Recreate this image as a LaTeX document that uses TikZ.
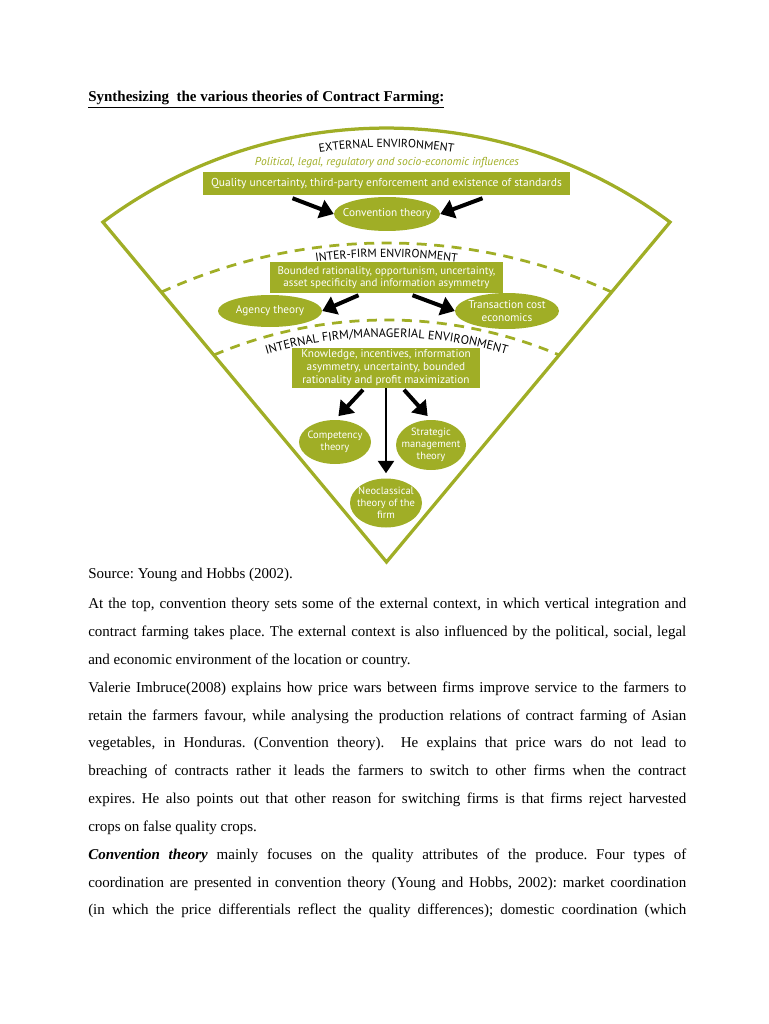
\documentclass[tikz,border=0pt]{standalone}
\usepackage{fontspec}
\setmainfont{Liberation Serif}
\newfontfamily\diagfont{PT Sans}
\usetikzlibrary{calc,arrows.meta,shapes.geometric,decorations.text}
\definecolor{leafgreen}{RGB}{160,174,38}
\newcommand{\archfont}{\diagfont\fontsize{9.4}{9.4}\selectfont}
\newcommand{\innerarchfont}{\diagfont\fontsize{9.8}{9.8}\selectfont}
\tikzset{
  sector line/.style={line width=2.6pt,leafgreen,line join=miter},
  layer line/.style={line width=2.2pt,leafgreen,dash pattern=on 8pt off 6pt},
  factor box/.style={fill=leafgreen,text=white,inner sep=0pt,align=center,font=\diagfont\fontsize{8.8}{10}\selectfont},
  theory oval/.style={ellipse,fill=leafgreen,inner sep=0pt},
  oval text/.style={text=white,inner sep=0pt,align=center,font=\diagfont\fontsize{9}{10.4}\selectfont},
  small oval text/.style={oval text,font=\diagfont\fontsize{8.4}{9.8}\selectfont},
  push arrow/.style={line width=3.2pt,-{Triangle[width=15pt,length=11pt]}},
  drop arrow/.style={line width=1.6pt,-{Triangle[width=13pt,length=10pt]}},
  body line/.style={anchor=base west,inner sep=0pt,font=\fontsize{12}{14}\selectfont},
}
\newcommand{\fullLine}[3]{
\node[body line] (#1) at (88,-#2) {\makebox[478.4pt][s]{#3}};
}
\newcommand{\lastLine}[3]{
\node[body line] (#1) at (88,-#2) {#3};
}
\frenchspacing

\begin{document}
\begin{tikzpicture}[x=0.8pt,y=0.8pt]
\useasboundingbox (0,0) rectangle (768,-1024);
\node[body line,font=\fontsize{12}{14}\selectfont\bfseries] (title) at (88,-102) {\underline{Synthesizing\ \ the various theories of Contract Farming:}};

% fan outline and layer borders
\coordinate (apex) at (386.5,-562);
\coordinate (left corner) at (102.9,-222.1);
\coordinate (outer centre) at (386.5,-602.5);
\coordinate (firm centre) at (386.5,-784.1);
\coordinate (inner centre) at (386.5,-763.1);
\draw[sector line] (apex) -- (left corner) arc[start angle=126.7,end angle=53.3,radius=474.5] -- cycle;
\draw[layer line] (161.3,-292.1) arc[start angle=114.6,end angle=65.4,radius=541.1];
\draw[layer line] (214.1,-354.9) arc[start angle=112.9,end angle=67.1,radius=443.1];

% arched layer names
\path[decorate,decoration={text along path,text align=center,text={|\archfont|EXTERNAL ENVIRONMENT}}]
  ([shift={(120:455)}]outer centre) arc[start angle=120,end angle=60,radius=455];
\path[decorate,decoration={text along path,text align=center,text={|\archfont|INTER-FIRM ENVIRONMENT}}]
  ([shift={(115:527)}]firm centre) arc[start angle=115,end angle=65,radius=527];
\path[decorate,decoration={text along path,text align=center,text={|\innerarchfont|INTERNAL FIRM/MANAGERIAL ENVIRONMENT}}]
  ([shift={(115:426)}]inner centre) arc[start angle=115,end angle=65,radius=426];

\node[text=leafgreen,inner sep=0pt,font=\diagfont\itshape\fontsize{9.2}{10}\selectfont] (influences) at (387,-163) {Political, legal, regulatory and socio-economic influences};

% factor boxes
\node[factor box,minimum width=293.6pt,minimum height=18.4pt,font=\diagfont\fontsize{9.2}{10}\selectfont] (qualbox) at (386.5,-183.5) {Quality uncertainty, third-party enforcement and existence of standards};
\node[factor box,minimum width=186.4pt,minimum height=24.8pt] (boundbox) at (386.5,-277.5) {Bounded rationality, opportunism, uncertainty,\\asset specificity and information asymmetry};
\node[factor box,minimum width=150.4pt,minimum height=32pt,font=\diagfont\fontsize{9}{10.2}\selectfont] (knowbox) at (386,-367.5) {Knowledge, incentives, information\\asymmetry, uncertainty, bounded\\rationality and profit maximization};

% theories
\node[theory oval,minimum width=84.8pt,minimum height=27.2pt] (conv) at (387,-214) {};
\node[oval text] (conv text) at (conv) {Convention theory};
\node[theory oval,minimum width=83.2pt,minimum height=25.6pt] (agency) at (270,-311) {};
\node[oval text] (agency text) at (agency) {Agency theory};
\node[theory oval,minimum width=83.2pt,minimum height=28.8pt] (trans) at (507,-311) {};
\node[oval text] (trans text) at (trans) {Transaction cost\\economics};
\node[theory oval,minimum width=57.6pt,minimum height=35.2pt] (comp) at (335,-442) {};
\node[small oval text] (comp text) at (comp) {Competency\\theory};
\node[theory oval,minimum width=56pt,minimum height=40pt] (strat) at (431,-445) {};
\node[small oval text] (strat text) at (strat) {Strategic\\management\\theory};
\node[theory oval,minimum width=57.6pt,minimum height=39.2pt] (neo) at (386,-503) {};
\node[small oval text] (neo text) at (neo) {Neoclassical\\theory of the\\firm};

% influences between layers
\draw[push arrow] ($(qualbox.south)+(-94,-3)$) -- (conv.west);
\draw[push arrow] ($(qualbox.south)+(96,-3)$) -- (conv.east);
\draw[push arrow] ($(boundbox.south)+(-28,-2)$) -- (agency.east);
\draw[push arrow] ($(boundbox.south)+(26,-2)$) -- (trans.west);
\draw[push arrow,shorten >=4pt] ($(knowbox.south)+(-23,-2)$) -- (comp.north);
\draw[push arrow,shorten >=4pt] ($(knowbox.south)+(18,-2)$) -- (strat.north);
\draw[drop arrow,shorten >=4pt] (knowbox.south) -- (neo.north);

% text below the figure
\lastLine{source}{578}{Source: Young and Hobbs (2002).}
\fullLine{l1}{608}{At the top, convention theory sets some of the external context, in which vertical integration and}
\fullLine{l2}{636}{contract farming takes place. The external context is also influenced by the political, social, legal}
\lastLine{l3}{664}{and economic environment of the location or country.}
\fullLine{l4}{692}{Valerie Imbruce(2008) explains how price wars between firms improve service to the farmers to}
\fullLine{l5}{720}{retain the farmers favour, while analysing the production relations of contract farming of Asian}
\fullLine{l6}{747}{vegetables, in Honduras. (Convention theory).\ \ He explains that price wars do not lead to}
\fullLine{l7}{775}{breaching of contracts rather it leads the farmers to switch to other firms when the contract}
\fullLine{l8}{803}{expires. He also points out that other reason for switching firms is that firms reject harvested}
\lastLine{l9}{831}{crops on false quality crops.}
\fullLine{l10}{859}{\textbf{\textit{Convention theory}} mainly focuses on the quality attributes of the produce. Four types of}
\fullLine{l11}{887}{coordination are presented in convention theory (Young and Hobbs, 2002): market coordination}
\fullLine{l12}{914}{(in which the price differentials reflect the quality differences); domestic coordination (which}
\end{tikzpicture}
\end{document}
